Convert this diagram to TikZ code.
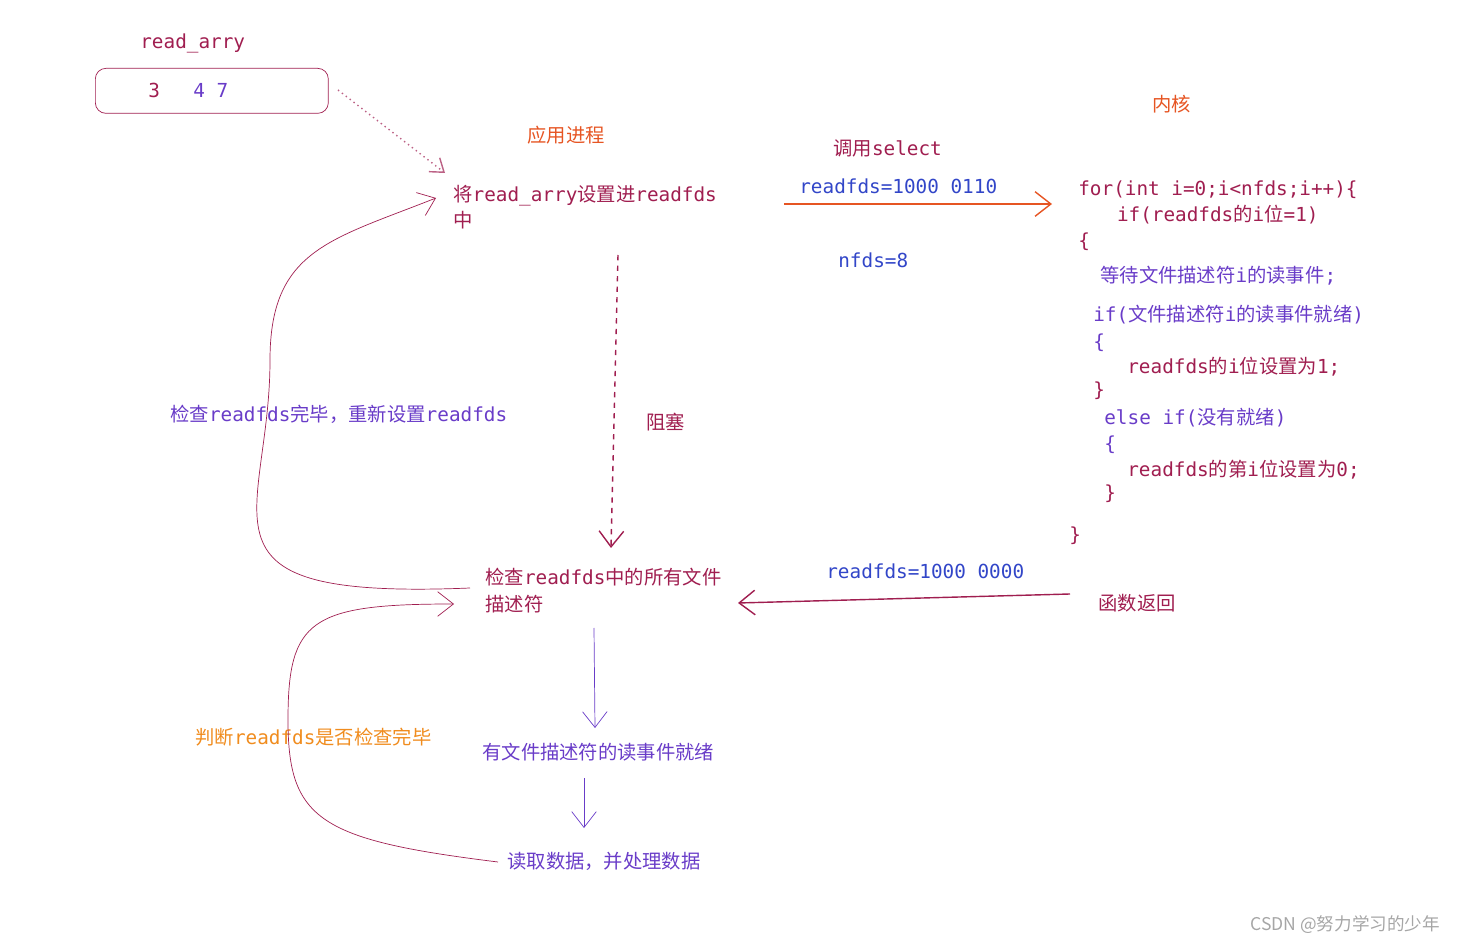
\documentclass[tikz,border=0pt]{standalone}
\usepackage{fontspec}
\setmainfont{Noto Sans CJK SC}
\newfontfamily\codefont{DejaVu Sans Mono}
\usetikzlibrary{arrows.meta,positioning}
\definecolor{crimson}{RGB}{160,30,80}
\definecolor{violet}{RGB}{105,60,200}
\definecolor{flame}{RGB}{230,85,35}
\definecolor{amber}{RGB}{240,140,30}
\definecolor{cobalt}{RGB}{50,70,200}
\tikzset{txt/.style={anchor=west, inner sep=0pt, font=\fontsize{11}{15}\selectfont},
  code/.style={txt, font=\codefont\fontsize{11}{15}\selectfont},
  sketch/.style={thick, -{Straight Barb[length=9pt,width=14pt]}},
  loop edge/.style={crimson, thin}}
\begin{document}
\begin{tikzpicture}[x=0.02cm, y=-0.02cm]
  \useasboundingbox (0,0) rectangle (1478,945);
  % left array
  \node [code, crimson] (title) at (140,43) {read\_arry};
  \node [draw=crimson, rounded corners=6pt, minimum width=4.66cm, minimum height=0.9cm, anchor=north west] (arry) at (95,68) {};
  \node [code, crimson] (a3) at (148,90) {3};
  \node [code, violet] (a47) at (193,90) {4 7};
  \coordinate (arryend) at (338,90);
  \coordinate (settip) at (445,173);
  \draw [crimson!70, dotted, thick, -{Straight Barb[length=7pt,width=10pt]}] (arryend) -- (settip);
  % process side
  \node [txt, flame] (app) at (527,135) {应用进程};
  \node [txt, crimson, align=left, anchor=north west] (setfds) at (453,185) {将{\codefont read\_arry}设置进{\codefont readfds}\\中};
  \node [txt, crimson] (block) at (646,422) {阻塞};
  \node [txt, crimson, align=left, anchor=north west] (check) at (485,568) {检查{\codefont readfds}中的所有文件\\描述符};
  \node [txt, violet] (ready) at (482,752) {有文件描述符的读事件就绪};
  \node [txt, violet] (read) at (507,861) {读取数据，并处理数据};
  \node [txt, violet] (reset) at (170,414) {检查{\codefont readfds}完毕，重新设置{\codefont readfds}};
  \node [txt, amber] (judge) at (195,737) {判断{\codefont readfds}是否检查完毕};
  % kernel side
  \node [txt, flame] (kernel) at (1152,104) {内核};
  \node [txt, crimson] (callsel) at (833,148) {调用{\codefont select}};
  \node [code, cobalt] (fdsin) at (799,186) {readfds=1000 0110};
  \node [code, cobalt] (nfds) at (838,260) {nfds=8};
  \node [code, cobalt] (fdsout) at (826,571) {readfds=1000 0000};
  \node [txt, crimson] (ret) at (1098,603) {函数返回};
  \node [code, crimson, align=left, anchor=north west] (loop) at (1078,180) {for(int i=0;i<nfds;i++)\{\\
  \hspace{2em}if(readfds{\rmfamily 的}i{\rmfamily 位}=1)\\{\{}};
  \node [txt, violet] (wait) at (1100,276) {等待文件描述符{\codefont i}的读事件{\codefont ;}};
  \node [code, violet, align=left, anchor=north west] (ifready) at (1093,305) {if({\rmfamily 文件描述符}i{\rmfamily 的读事件就绪})\\\{};
  \node [code, crimson] (set1) at (1127,367) {readfds{\rmfamily 的}i{\rmfamily 位设置为}1;};
  \node [code, crimson] (close1) at (1093,391) {\}};
  \node [code, violet, align=left, anchor=north west] (elseif) at (1104,408) {else if({\rmfamily 没有就绪})\\\{};
  \node [code, crimson] (set0) at (1127,470) {readfds{\rmfamily 的第}i{\rmfamily 位设置为}0;};
  \node [code, crimson] (close2) at (1104,494) {\}};
  \node [code, crimson] (close3) at (1069,536) {\}};
  \node [txt, gray!70, font=\fontsize{10}{12}\selectfont] (csdn) at (1250,925) {CSDN @努力学习的少年};
  % connectors
  \coordinate (selstart) at (784,204);
  \coordinate (selend) at (1052,204);
  \draw [sketch, flame] (selstart) -- (selend);
  \coordinate (retstart) at (1070,594);
  \coordinate (retend) at (738,603);
  \draw [sketch, crimson] (retstart) -- (retend);
  \coordinate (blockstart) at (618,255);
  \coordinate (blockend) at (611,548);
  \draw [sketch, crimson, dashed] (blockstart) -- (blockend);
  \coordinate (readystart) at (594,628);
  \coordinate (readyend) at (595,728);
  \draw [sketch, violet, thin] (readystart) -- (readyend);
  \coordinate (readstart) at (584,778);
  \coordinate (readend) at (584,828);
  \draw [sketch, violet, thin] (readstart) -- (readend);
  \coordinate (loopa) at (470,588);
  \coordinate (loopb) at (436,198);
  \draw [loop edge, -{Straight Barb[length=9pt,width=14pt]}] (loopa) .. controls (180,600) and (270,520) .. (270,360) .. controls (270,250) and (330,240) .. (loopb);
  \coordinate (loopc) at (498,862);
  \coordinate (loopd) at (454,604);
  \draw [loop edge, -{Straight Barb[length=9pt,width=14pt]}] (loopc) .. controls (320,840) and (288,820) .. (288,720) .. controls (288,620) and (310,604) .. (loopd);
\end{tikzpicture}
\end{document}
